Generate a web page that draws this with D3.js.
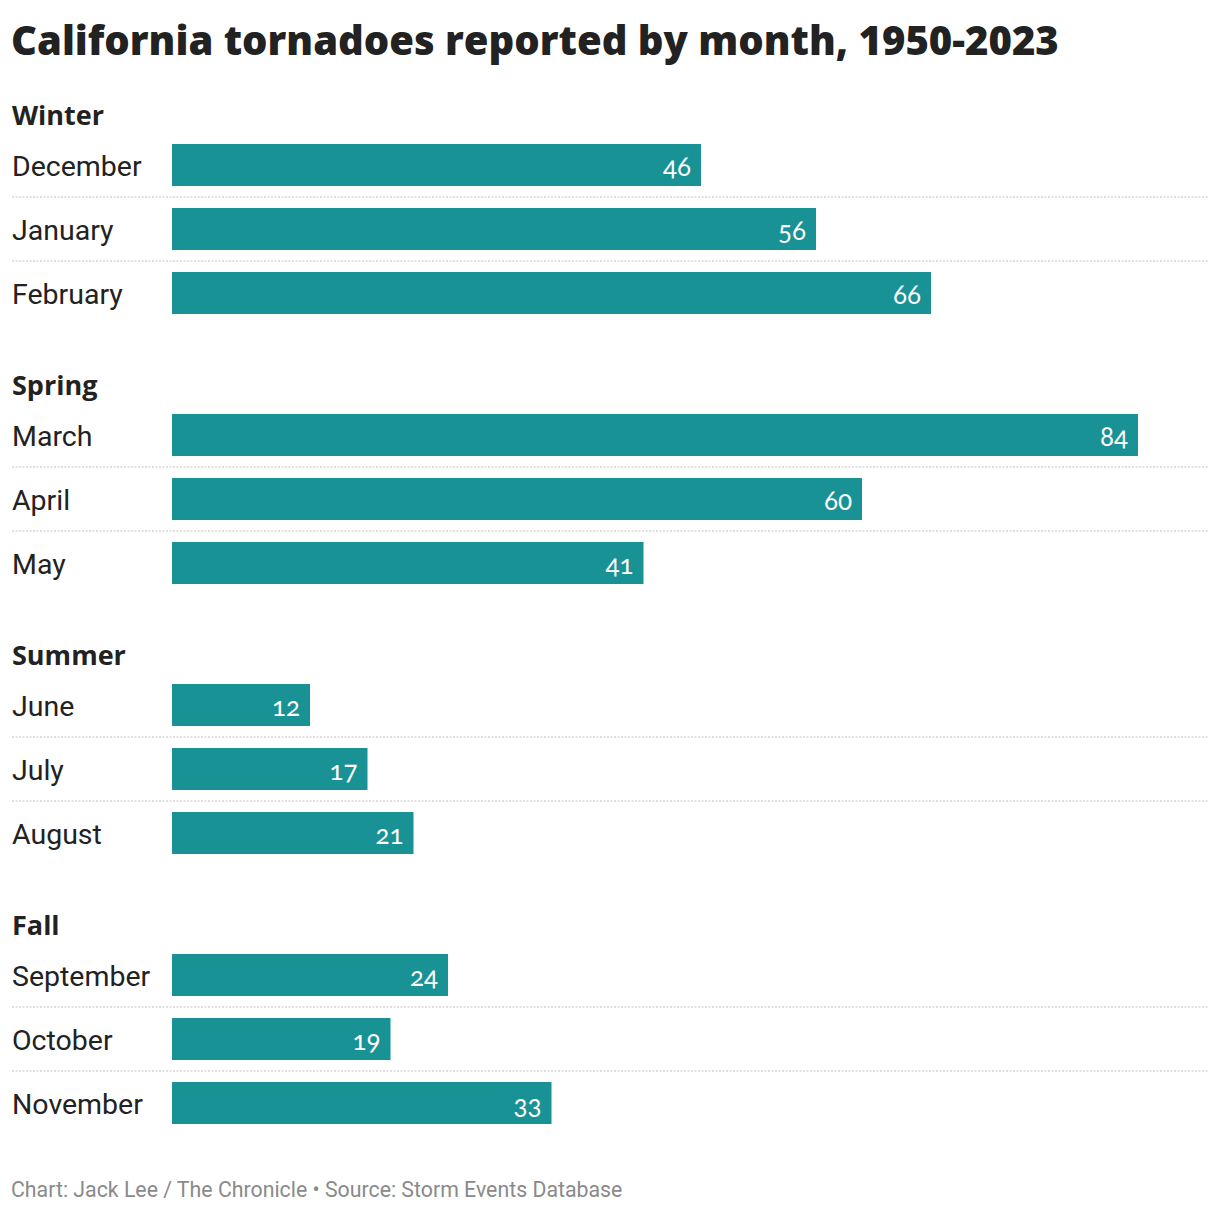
<!DOCTYPE html>
<html>
<head>
<meta charset="utf-8">
<script src="https://cdn.jsdelivr.net/npm/d3@7"></script>
<style>
  body { margin: 0; background: #fff; }
  svg { display: block; }
  .title { font-family: "Open Sans", sans-serif; font-weight: 800; font-size: 40px; fill: #222; }
  .season { font-family: "Open Sans", sans-serif; font-weight: 700; font-size: 27px; fill: #222; }
  .month { font-family: Roboto, sans-serif; font-size: 28.5px; fill: #222; }
  .value { font-family: Lato, sans-serif; font-size: 26px; fill: #fff; font-feature-settings: "onum"; }
  .credit { font-family: Roboto, sans-serif; font-size: 21.3px; fill: #8a8a8a; }
</style>
</head>
<body>
<svg id="chart"></svg>
<script>
const seasons = ['Winter', 'Spring', 'Summer', 'Fall'];
const months = ['December', 'January', 'February', 'March', 'April', 'May',
  'June', 'July', 'August', 'September', 'October', 'November'];
const counts = [46, 56, 66, 84, 60, 41, 12, 17, 21, 24, 19, 33];
const monthSeason = [0, 0, 0, 1, 1, 1, 2, 2, 2, 3, 3, 3];

const width = 1220, height = 1218;
const rows = months.map((m, i) => ({
  month: m,
  value: counts[i],
  season: seasons[monthSeason[i]],
  slot: i % 3
}));

const svg = d3.select('#chart')
  .attr('width', width)
  .attr('height', height);

svg.append('text')
  .attr('class', 'title')
  .attr('x', 11)
  .attr('y', 55)
  .text('California tornadoes reported by month, 1950-2023');

const xScale = d3.scaleLinear()
  .domain([0, 84])
  .range([172, 1138]);

const seasonScale = d3.scaleBand()
  .domain(seasons)
  .range([100, 100 + 270 * seasons.length]);

const slotScale = d3.scaleBand()
  .domain([0, 1, 2])
  .range([44, 214])
  .paddingInner(22 / 64)
  .paddingOuter(0);

const groups = svg.selectAll('.group')
  .data(seasons)
  .join('g')
  .attr('class', 'group')
  .attr('transform', d => `translate(0, ${seasonScale(d)})`);

groups.append('text')
  .attr('class', 'season')
  .attr('x', 12)
  .attr('y', 16)
  .attr('dy', '0.35em')
  .text(d => d);

// dotted separators between rows in a group
groups.selectAll('.sep')
  .data([1, 2])
  .join('line')
  .attr('class', 'sep')
  .attr('x1', 12)
  .attr('x2', 1208)
  .attr('y1', d => slotScale(d) - 11)
  .attr('y2', d => slotScale(d) - 11)
  .attr('stroke', '#d6d6d6')
  .attr('stroke-width', 1.5)
  .attr('stroke-dasharray', '2,1.5');

const rowG = groups.selectAll('.row')
  .data(s => rows.filter(r => r.season === s))
  .join('g')
  .attr('class', 'row')
  .attr('transform', d => `translate(0, ${slotScale(d.slot)})`);

rowG.append('rect')
  .attr('x', xScale(0))
  .attr('y', 0)
  .attr('width', d => xScale(d.value) - xScale(0))
  .attr('height', slotScale.bandwidth())
  .attr('fill', '#189294');

rowG.append('text')
  .attr('class', 'month')
  .attr('x', 12)
  .attr('y', slotScale.bandwidth() / 2 + 1)
  .attr('dy', '0.35em')
  .text(d => d.month);

rowG.append('text')
  .attr('class', 'value')
  .attr('x', d => xScale(d.value) - 10)
  .attr('y', slotScale.bandwidth() / 2 + 2)
  .attr('dy', '0.35em')
  .attr('text-anchor', 'end')
  .text(d => d.value);

svg.append('text')
  .attr('class', 'credit')
  .attr('x', 11)
  .attr('y', 1197)
  .text('Chart: Jack Lee / The Chronicle \u2022 Source: Storm Events Database');
</script>
</body>
</html>
